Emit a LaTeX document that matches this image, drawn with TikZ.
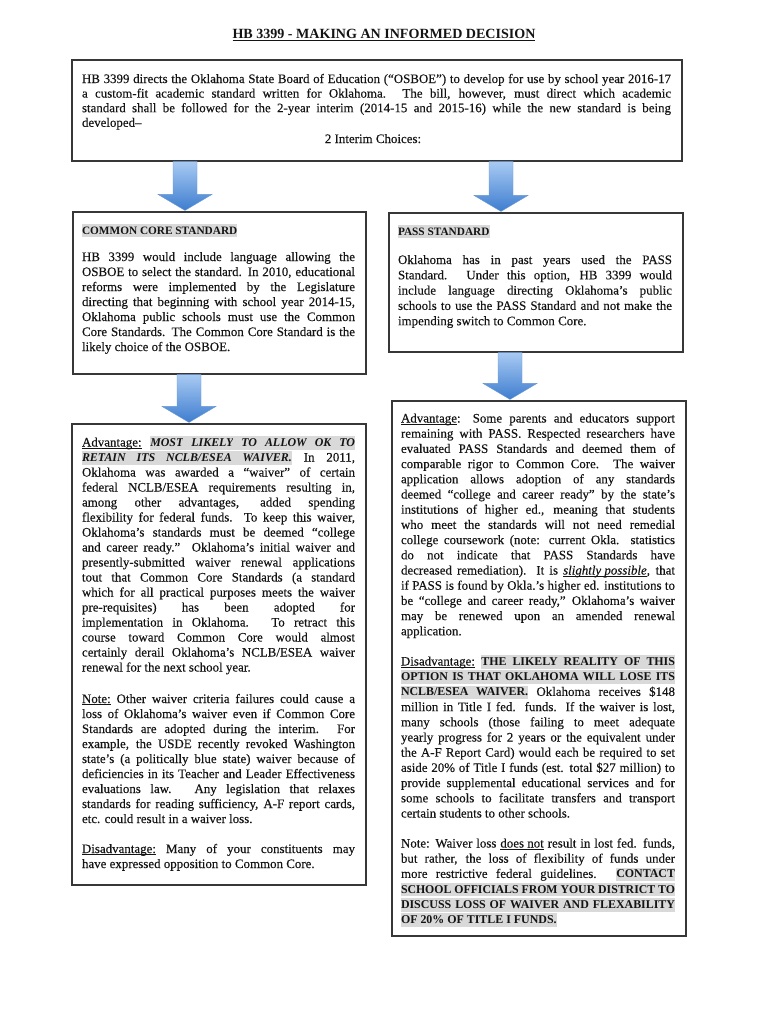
\documentclass[tikz,border=0pt]{standalone}
\usepackage{fontspec}
\setmainfont{Liberation Serif}[UprightFeatures={FakeBold=0.25},ItalicFeatures={FakeBold=0.25}]
\usepackage{graphicx}
\usetikzlibrary{calc,fit}
\definecolor{ink}{HTML}{141414}
\definecolor{hlgray}{HTML}{D9D9D9}
\definecolor{arrowtop}{HTML}{A8CAF3}
\definecolor{arrowbot}{HTML}{3E7DCF}
\definecolor{arrowedge}{HTML}{6A98D2}
\newdimen\pxu \pxu=0.797pt
\newcommand\bodyfont{\fontsize{10.3}{12}\selectfont}
\newcommand\hd[1]{{\fontsize{9}{11}\selectfont\bfseries #1}}
\newcommand\bc[1]{{\fontsize{9.5}{11}\selectfont\bfseries #1}}
\newcommand\bci[1]{{\fontsize{9.5}{11}\selectfont\bfseries\itshape #1}}
\newcommand\lnj[1]{\setbox0=\hbox{#1}\ifdim\wd0>\hsize\hbox{\resizebox{\hsize}{\height}{\box0}}\else\hbox to\hsize{\unhbox0}\fi}
\newcommand\lne[1]{\hbox{#1}}
\newcommand\blk[3]{\vtop{\hsize=#1\pxu\baselineskip=#2\pxu\lineskiplimit=-100pt\lineskip=0pt\parindent=0pt\relax#3}}
\newcommand\undl[1]{\setbox2=\hbox{#1}\rlap{\vrule height -1.1pt depth 1.7pt width \wd2}\box2\relax}
\newcommand\titul[1]{\setbox2=\hbox{#1}\rlap{\vrule height -1.5pt depth 2.3pt width \wd2}\box2\relax}
\newcommand\hlbox[1]{{\fboxsep=0pt\colorbox{hlgray}{\vrule height 8.2pt depth 2.6pt width 0pt#1}}}
\newcommand\hlsp{{\color{hlgray}\leaders\vrule height 8.2pt depth 2.6pt\hskip\fontdimen2\font plus\fontdimen3\font minus\fontdimen4\font}}
\def\hlwords#1 #2\hlend{\hlbox{#1}\ifx\relax#2\relax\else\hlsp\hlwords#2\hlend\fi}
\newcommand\hlt[1]{\hlwords#1 \hlend}
\tikzset{
 panel/.style={draw=ink!85, line width=0.95pt, inner sep=0pt},
 txt/.style={anchor=base west, inner sep=0pt, outer sep=0pt, text=ink, font=\bodyfont},
 barrow/.style={draw=arrowedge, line width=0.3pt, top color=arrowtop, bottom color=arrowbot},
}
\newcommand\blockarrow[3]{%
 \path[barrow] ($(#1,0 |- #2.south)+(-12,0)$) -- ($(#1,0 |- #2.south)+(12,0)$)
  -- ($(#1,0 |- #3.north)+(12,-17)$) -- ($(#1,0 |- #3.north)+(27,-17)$)
  -- ($(#1,0 |- #3.north)+(0,-1)$) -- ($(#1,0 |- #3.north)+(-27,-17)$)
  -- ($(#1,0 |- #3.north)+(-12,-17)$) -- cycle;}
\begin{document}
\begin{tikzpicture}[x=0.797pt,y=-0.797pt]
\useasboundingbox (0,0) rectangle (768,1024);
\fill[white] (0,0) rectangle (768,1024);

\node[txt, anchor=base, font={\fontsize{11.2}{13}\selectfont\bfseries}] (title) at (384,38) {\titul{HB 3399 - MAKING AN INFORMED DECISION}};

\node[panel, fit={(72,60) (682,161)}] (intro) {};
\node[panel, fit={(73,212) (366,374)}] (cc) {};
\node[panel, fit={(389,213) (683,352)}] (pass) {};
\node[panel, fit={(72,424) (366,885)}] (ccpro) {};
\node[panel, fit={(392,401) (686,936)}] (passpro) {};

\blockarrow{185}{intro}{cc}
\blockarrow{501}{intro}{pass}
\blockarrow{189}{cc}{ccpro}
\blockarrow{510}{pass}{passpro}

\node[txt] (introtext) at (82,83) {\blk{589}{14.6}{
\lnj{HB 3399 directs the Oklahoma State Board of Education (“OSBOE”) to develop for use by school year 2016-17}
\lnj{a custom-fit academic standard written for Oklahoma.  The bill, however, must direct which academic}
\lnj{standard shall be followed for the 2-year interim (2014-15 and 2015-16) while the new standard is being}
\lne{developed–}}};
\node[txt, anchor=base] (choices) at (373,143) {2 Interim Choices:};

\node[txt] (cchead) at (82,234) {\hd{\hlt{COMMON CORE STANDARD}}};
\node[txt] (cctext) at (82,261) {\blk{273}{15}{
\lnj{HB 3399 would include language allowing the}
\lnj{OSBOE to select the standard. In 2010, educational}
\lnj{reforms were implemented by the Legislature}
\lnj{directing that beginning with school year 2014-15,}
\lnj{Oklahoma public schools must use the Common}
\lnj{Core Standards. The Common Core Standard is the}
\lne{likely choice of the OSBOE.}}};

\node[txt] (passhead) at (398,235) {\hd{\hlt{PASS STANDARD}}};
\node[txt] (passtext) at (398,264) {\blk{274}{15.3}{
\lnj{Oklahoma has in past years used the PASS}
\lnj{Standard.  Under this option, HB 3399 would}
\lnj{include language directing Oklahoma’s public}
\lnj{schools to use the PASS Standard and not make the}
\lne{impending switch to Common Core.}}};

\node[txt] (ccadv) at (82,446.5) {\blk{273}{15}{
\lnj{\undl{Advantage:} \bci{\hlt{MOST LIKELY TO ALLOW OK TO}}}
\lnj{\bci{\hlt{RETAIN ITS NCLB/ESEA WAIVER.}} In 2011,}
\lnj{Oklahoma was awarded a “waiver” of certain}
\lnj{federal NCLB/ESEA requirements resulting in,}
\lnj{among other advantages, added spending}
\lnj{flexibility for federal funds.  To keep this waiver,}
\lnj{Oklahoma’s standards must be deemed “college}
\lnj{and career ready.”  Oklahoma’s initial waiver and}
\lnj{presently-submitted waiver renewal applications}
\lnj{tout that Common Core Standards (a standard}
\lnj{which for all practical purposes meets the waiver}
\lnj{pre-requisites) has been adopted for}
\lnj{implementation in Oklahoma.  To retract this}
\lnj{course toward Common Core would almost}
\lnj{certainly derail Oklahoma’s NCLB/ESEA waiver}
\lne{renewal for the next school year.}}};

\node[txt] (ccnote) at (82,703) {\blk{273}{15}{
\lnj{\undl{Note:} Other waiver criteria failures could cause a}
\lnj{loss of Oklahoma’s waiver even if Common Core}
\lnj{Standards are adopted during the interim. For}
\lnj{example, the USDE recently revoked Washington}
\lnj{state’s (a politically blue state) waiver because of}
\lnj{deficiencies in its Teacher and Leader Effectiveness}
\lnj{evaluations law. Any legislation that relaxes}
\lnj{standards for reading sufficiency, A-F report cards,}
\lne{etc. could result in a waiver loss.}}};

\node[txt] (ccdis) at (82,853) {\blk{273}{15}{
\lnj{\undl{Disadvantage:} Many of your constituents may}
\lne{have expressed opposition to Common Core.}}};

\node[txt] (passadv) at (401,422.5) {\blk{274}{15.2}{
\lnj{\undl{Advantage}: Some parents and educators support}
\lnj{remaining with PASS. Respected researchers have}
\lnj{evaluated PASS Standards and deemed them of}
\lnj{comparable rigor to Common Core. The waiver}
\lnj{application  allows adoption of any standards}
\lnj{deemed “college and career ready” by the state’s}
\lnj{institutions of higher ed., meaning that students}
\lnj{who meet the standards will not need remedial}
\lnj{college coursework (note: current Okla. statistics}
\lnj{do not indicate that PASS Standards have}
\lnj{decreased remediation). It is \undl{\textit{slightly possible}}, that}
\lnj{if PASS is found by Okla.’s higher ed. institutions to}
\lnj{be “college and career ready,” Oklahoma’s waiver}
\lnj{may be renewed upon an amended renewal}
\lne{application.}}};

\node[txt] (passdis) at (401,665.5) {\blk{274}{15.2}{
\lnj{\undl{Disadvantage:} \bc{\hlt{THE LIKELY REALITY OF THIS}}}
\lnj{\bc{\hlt{OPTION IS THAT OKLAHOMA WILL LOSE ITS}}}
\lnj{\bc{\hlt{NCLB/ESEA WAIVER.}} Oklahoma receives \$148}
\lnj{million in Title I fed. funds. If the waiver is lost,}
\lnj{many schools (those failing to meet adequate}
\lnj{yearly progress for 2 years or the equivalent under}
\lnj{the A-F Report Card) would each be required to set}
\lnj{aside 20\% of Title I funds (est. total \$27 million) to}
\lnj{provide supplemental educational services and for}
\lnj{some schools to facilitate transfers and transport}
\lne{certain students to other schools.}}};

\node[txt] (passnote) at (401,847.5) {\blk{274}{15.2}{
\lnj{Note: Waiver loss \undl{does not} result in lost fed. funds,}
\lnj{but rather, the loss of flexibility of  funds under}
\lnj{more restrictive federal guidelines. \bc{\hlt{CONTACT}}}
\lnj{\bc{\hlt{SCHOOL OFFICIALS FROM YOUR DISTRICT TO}}}
\lnj{\bc{\hlt{DISCUSS LOSS OF WAIVER AND FLEXABILITY}}}
\lne{\bc{\hlt{OF 20\% OF TITLE I FUNDS.}}}}};
\end{tikzpicture}
\end{document}
